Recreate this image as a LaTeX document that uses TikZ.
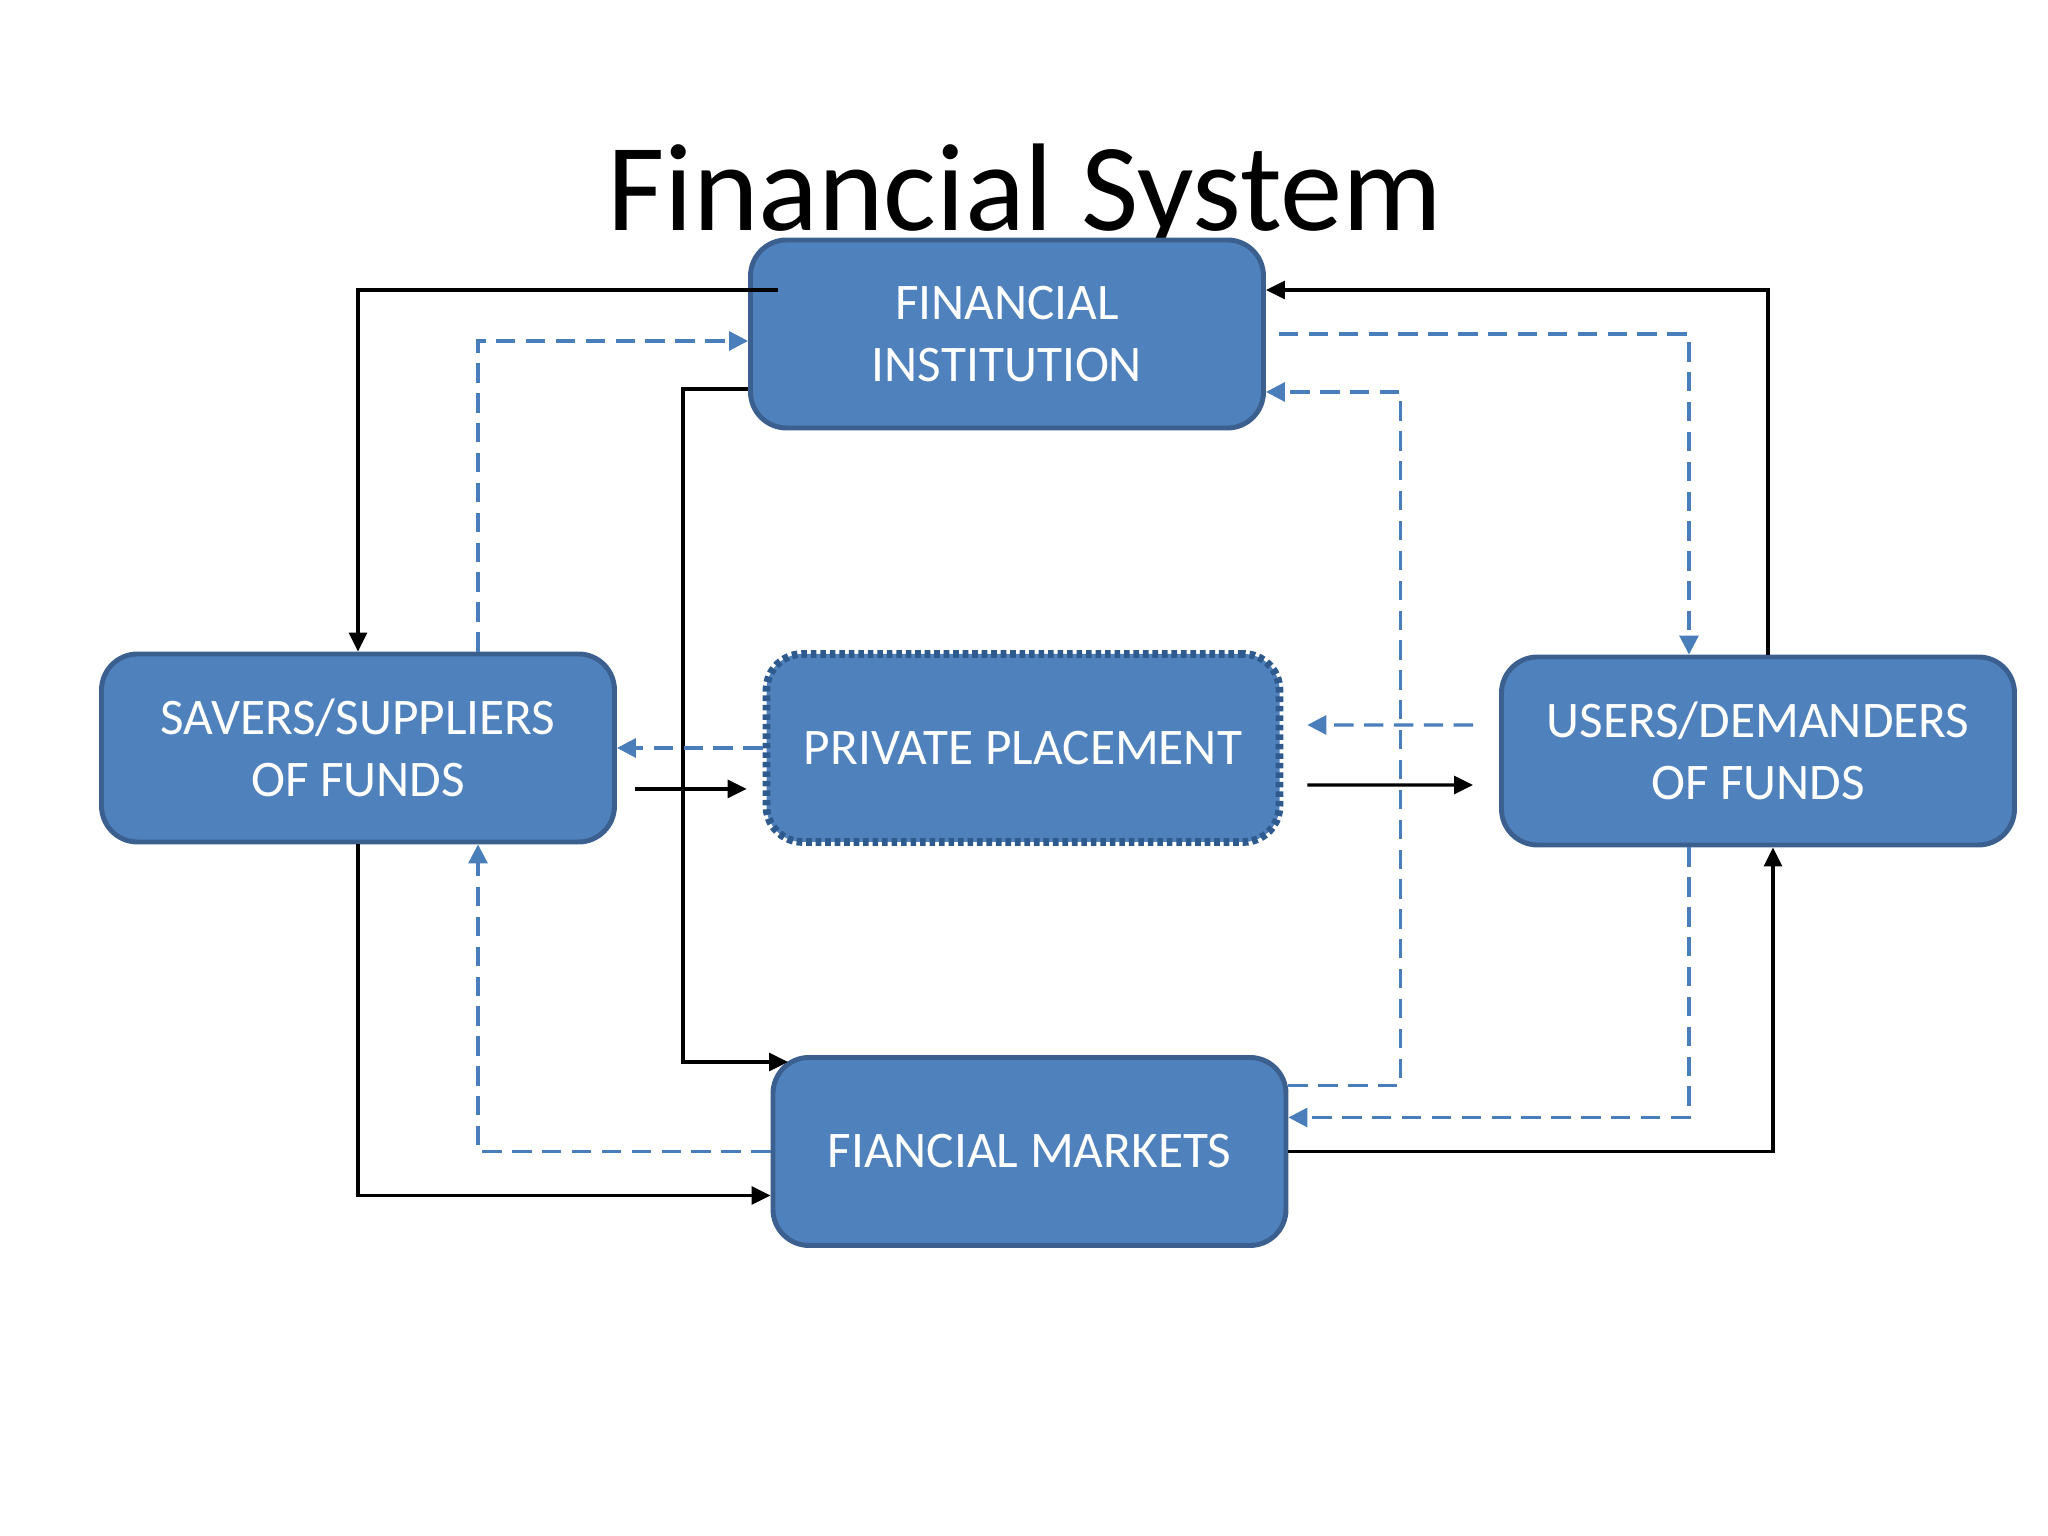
\documentclass[tikz,border=0pt]{standalone}
\usepackage{fontspec}
\setmainfont{Carlito}
\usetikzlibrary{
  arrows.meta,
  calc,
  positioning
}
\definecolor{boxblue}{HTML}{4F81BD}
\definecolor{boxline}{HTML}{3B5F8E}
\definecolor{dotline}{HTML}{2F5A8E}
\definecolor{dashblue}{HTML}{4A7EBB}
\tikzset{
  flow/.style={
    -{Triangle[length=1.9mm,width=1.8mm]},
    line width=0.9pt,
    draw=black
  },
  fund/.style={
    -{Triangle[length=1.9mm,width=1.9mm]},
    line width=0.9pt,
    draw=dashblue,
    dash pattern=on 5.5pt off 3pt
  },
  sector/.style={
    rectangle,
    draw=boxline,
    fill=boxblue,
    line width=1.4pt,
    rounded corners=3.6mm,
    minimum width=5.13cm,
    minimum height=1.88cm,
    align=center,
    text=white,
    font=\fontsize{14.6}{17.8}\selectfont
  },
  placement/.style={
    sector,
    draw=dotline,
    line width=2.2pt,
    dash pattern=on 1.6pt off 1.1pt
  },
  heading/.style={
    anchor=base,
    font=\fontsize{35.5}{40}\selectfont
  }
}

\begin{document}
\begin{tikzpicture}
  \useasboundingbox (0,0) rectangle (20.48,15.36);
  \node[heading] (title) at (10.25,13.05) {Financial System};
  % boxes
  \node[sector] (fi) at (10.07,12.02) {FINANCIAL\\INSTITUTION};
  \node[sector] (savers) at (3.58,7.88) {SAVERS/SUPPLIERS\\OF FUNDS};
  \node[placement] (private) at (10.23,7.88) {PRIVATE PLACEMENT};
  \node[sector] (users) at (17.58,7.85) {USERS/DEMANDERS\\OF FUNDS};
  \node[sector] (fm) at (10.295,3.845) {FIANCIAL MARKETS};
  \coordinate (fistart) at (7.78,12.46);
  \coordinate (fmcorner) at (7.88,4.74);
  % money through the institution
  \draw[flow] (fistart) -| (savers.north);
  \draw[fund] ([xshift=12mm]savers.north) |- ([yshift=-0.7mm]fi.west);
  \draw[flow] ([yshift=-5.5mm]fi.west) -- ++(-0.65,0) |- (fmcorner);
  \draw[flow] ([xshift=1mm]users.north) |- ([yshift=4.4mm]fi.east);
  \draw[fund] ([xshift=1.3mm]fi.east) -| ([xshift=-6.9mm]users.north);
  % private placement
  \draw[fund] (private.west) -- (savers.east);
  \draw[flow] ([shift={(1.8mm,-4.1mm)}]savers.east)
    -- ([shift={(-1.6mm,-4.1mm)}]private.west);
  \draw[fund] ([shift={(-2.6mm,2.6mm)}]users.west)
    -- ([shift={(2.4mm,2.3mm)}]private.east);
  \draw[flow] ([shift={(2.4mm,-3.7mm)}]private.east)
    -- ([shift={(-2.6mm,-3.4mm)}]users.west);
  % markets
  \draw[fund] ([yshift=6.6mm]fm.east) -- ++(1.12,0)
    |- ([yshift=-5.8mm]fi.east);
  \draw[fund] ([xshift=-6.9mm]users.south) |- ([yshift=3.4mm]fm.east);
  \draw[flow] (fm.east) -| ([xshift=1.5mm]users.south);
  \draw[fund] (fm.west) -| ([xshift=12mm]savers.south);
  \draw[flow] (savers.south) |- ([yshift=-4.4mm]fm.west);
\end{tikzpicture}
\end{document}
